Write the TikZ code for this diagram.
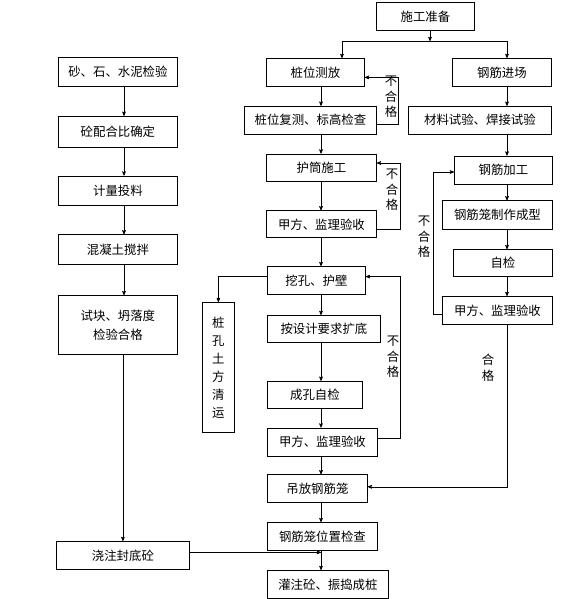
\documentclass[tikz,border=0pt]{standalone}
\usepackage{fontspec}
\newfontfamily\cjk{Noto Sans CJK SC}
\usetikzlibrary{arrows,positioning}

\begin{document}
\begin{tikzpicture}[->,>=stealth',x=1pt,y=-1pt,line width=0.6pt]
        \tikzstyle{box}=[draw, rectangle, line width=0.8pt, minimum height=28pt,
            anchor=north west, inner sep=2pt, font=\cjk\fontsize{12.4}{15}\selectfont]
        \tikzstyle{vlab}=[align=center, inner sep=0pt,
            font=\cjk\fontsize{12.4}{15.5}\selectfont]

        \useasboundingbox (0,0) rectangle (587,599);

        \node[box, minimum width=98pt] (zb) at (376,2) {施工准备};

        % left column
        \node[box, minimum width=119pt, minimum height=29pt] (ssn) at (58,57) {砂、石、水泥检验};
        \node[box, minimum width=119pt, minimum height=31pt, below=29pt of ssn.south west, anchor=north west] (pb) {砼配合比确定};
        \node[box, minimum width=119pt, minimum height=29pt, below=28pt of pb.south west, anchor=north west] (jl) {计量投料};
        \node[box, minimum width=119pt, minimum height=30pt, below=29pt of jl.south west, anchor=north west] (jb) {混凝土搅拌};
        \node[box, minimum width=119pt, minimum height=59pt, align=center, font=\cjk\fontsize{12.4}{19}\selectfont,
            below=30pt of jb.south west, anchor=north west] (sk) {试块、坍落度\\检验合格};
        \node[box, minimum width=133pt] (jz) at (56,541) {浇注封底砼};

        % middle column
        \node[box, minimum width=98pt] (cw) at (266,58) {桩位测放};
        \node[box, minimum width=132pt, below=19pt of cw.south west, anchor=north west, xshift=-22pt] (cf) {桩位复测、标高检查};
        \node[box, minimum width=110pt, minimum height=27pt, below=19pt of cf.south west, anchor=north west, xshift=22pt] (ht) {护筒施工};
        \node[box, minimum width=110pt, minimum height=27pt, below=29pt of ht.south west, anchor=north west] (ys1) {甲方、监理验收};
        \node[box, minimum width=98pt, below=28pt of ys1.south west, anchor=north west, xshift=1pt] (wk) {挖孔、护壁};
        \node[box, minimum width=113pt, minimum height=27pt, below=20pt of wk.south west, anchor=north west] (kd) {按设计要求扩底};
        \node[box, minimum width=95pt, minimum height=27pt, below=38pt of kd.south west, anchor=north west] (ck) {成孔自检};
        \node[box, minimum width=110pt, below=19pt of ck.south west, anchor=north west] (ys2) {甲方、监理验收};
        \node[box, minimum width=100pt, below=18pt of ys2.south west, anchor=north west] (df) {吊放钢筋笼};
        \node[box, minimum width=110pt, below=19pt of df.south west, anchor=north west] (wz) {钢筋笼位置检查};
        \node[box, minimum width=121pt, below=19pt of wz.south west, anchor=north west] (gz) {灌注砼、振捣成桩};
        \node[box, minimum width=32pt, minimum height=130pt, align=center, font=\cjk\fontsize{12.4}{18}\selectfont] (qy) at (202,302) {桩\\孔\\土\\方\\清\\运};

        % right column
        \node[box, minimum width=99pt] (jc) at (452,58) {钢筋进场};
        \node[box, minimum width=143pt, below=19pt of jc.south west, anchor=north west, xshift=-44pt] (sy) {材料试验、焊接试验};
        \node[box, minimum width=98pt, below=21pt of sy.south west, anchor=north west, xshift=46pt] (jg) {钢筋加工};
        \node[box, minimum width=110pt, minimum height=29pt, below=16pt of jg.south west, anchor=north west, xshift=-12pt] (zz) {钢筋笼制作成型};
        \node[box, minimum width=99pt, minimum height=27pt, below=19pt of zz.south west, anchor=north west, xshift=11pt] (zj) {自检};
        \node[box, minimum width=110pt, below=19pt of zj.south west, anchor=north west, xshift=-11pt] (ys3) {甲方、监理验收};

        \coordinate (lx) at (124,0);
        \coordinate (cx) at (321,0);
        \coordinate (rx) at (507,0);
        \coordinate (sl) at (342,41);
        \coordinate (sm) at (430,41);
        \coordinate (sr) at (507,41);

        \draw[-] (sl) -- (sr);
        \path (zb.south -| sm) edge (sm)
        (sl) edge (cw.north -| sl)
        (sr) edge (jc.north -| sr);

        \path (ssn.south -| lx) edge (pb.north -| lx)
        (pb.south -| lx) edge (jl.north -| lx)
        (jl.south -| lx) edge (jb.north -| lx)
        (jb.south -| lx) edge (sk.north -| lx)
        (sk.south -| jz.north) edge (jz.north);

        \path (cw.south -| cx) edge (cf.north -| cx)
        (cf.south -| cx) edge (ht.north -| cx)
        (ht.south -| cx) edge (ys1.north -| cx)
        (ys1.south -| cx) edge (wk.north -| cx)
        (wk.south -| cx) edge (kd.north -| cx)
        (kd.south -| cx) edge (ck.north -| cx)
        (ck.south -| cx) edge (ys2.north -| cx)
        (ys2.south -| cx) edge (df.north -| cx)
        (df.south -| cx) edge (wz.north -| cx)
        (wz.south -| cx) edge (gz.north -| cx);

        \path (jc.south -| rx) edge (sy.north -| rx)
        (sy.south -| rx) edge (jg.north -| rx)
        (jg.south -| rx) edge (zz.north -| rx)
        (zz.south -| rx) edge (zj.north -| rx)
        (zj.south -| rx) edge (ys3.north -| rx);

        % loops back
        \draw ([yshift=-4pt]cf.east) -- ++(21,0) |- ([yshift=-5pt]cw.east);
        \draw ([yshift=-4.5pt]ys1.east) -- ++(23,0) |- ([yshift=4.5pt]ht.east);
        \draw ([yshift=-4pt]ys3.west) -- ++(-9,0) |- ([yshift=-2pt]jg.west);
        \draw ([yshift=4pt]ys2.east) -- ++(22,0) |- ([yshift=4pt]wk.east);
        \draw (ys3.south -| rx) |- ([yshift=2pt]df.east);
        \draw ([yshift=4pt]wk.west) -| (qy.north);
        \draw ([yshift=3pt]jz.east) -- ([yshift=3pt]jz.east -| cx);

        \node[vlab] (ng1) at (391,97) {不\\合\\格};
        \node[vlab] (ng2) at (392,190) {不\\合\\格};
        \node[vlab] (ng3) at (424,237) {不\\合\\格};
        \node[vlab] (ng4) at (393,357) {不\\合\\格};
        \node[vlab] (ok) at (488,368) {合\\格};
    \end{tikzpicture}
\end{document}
